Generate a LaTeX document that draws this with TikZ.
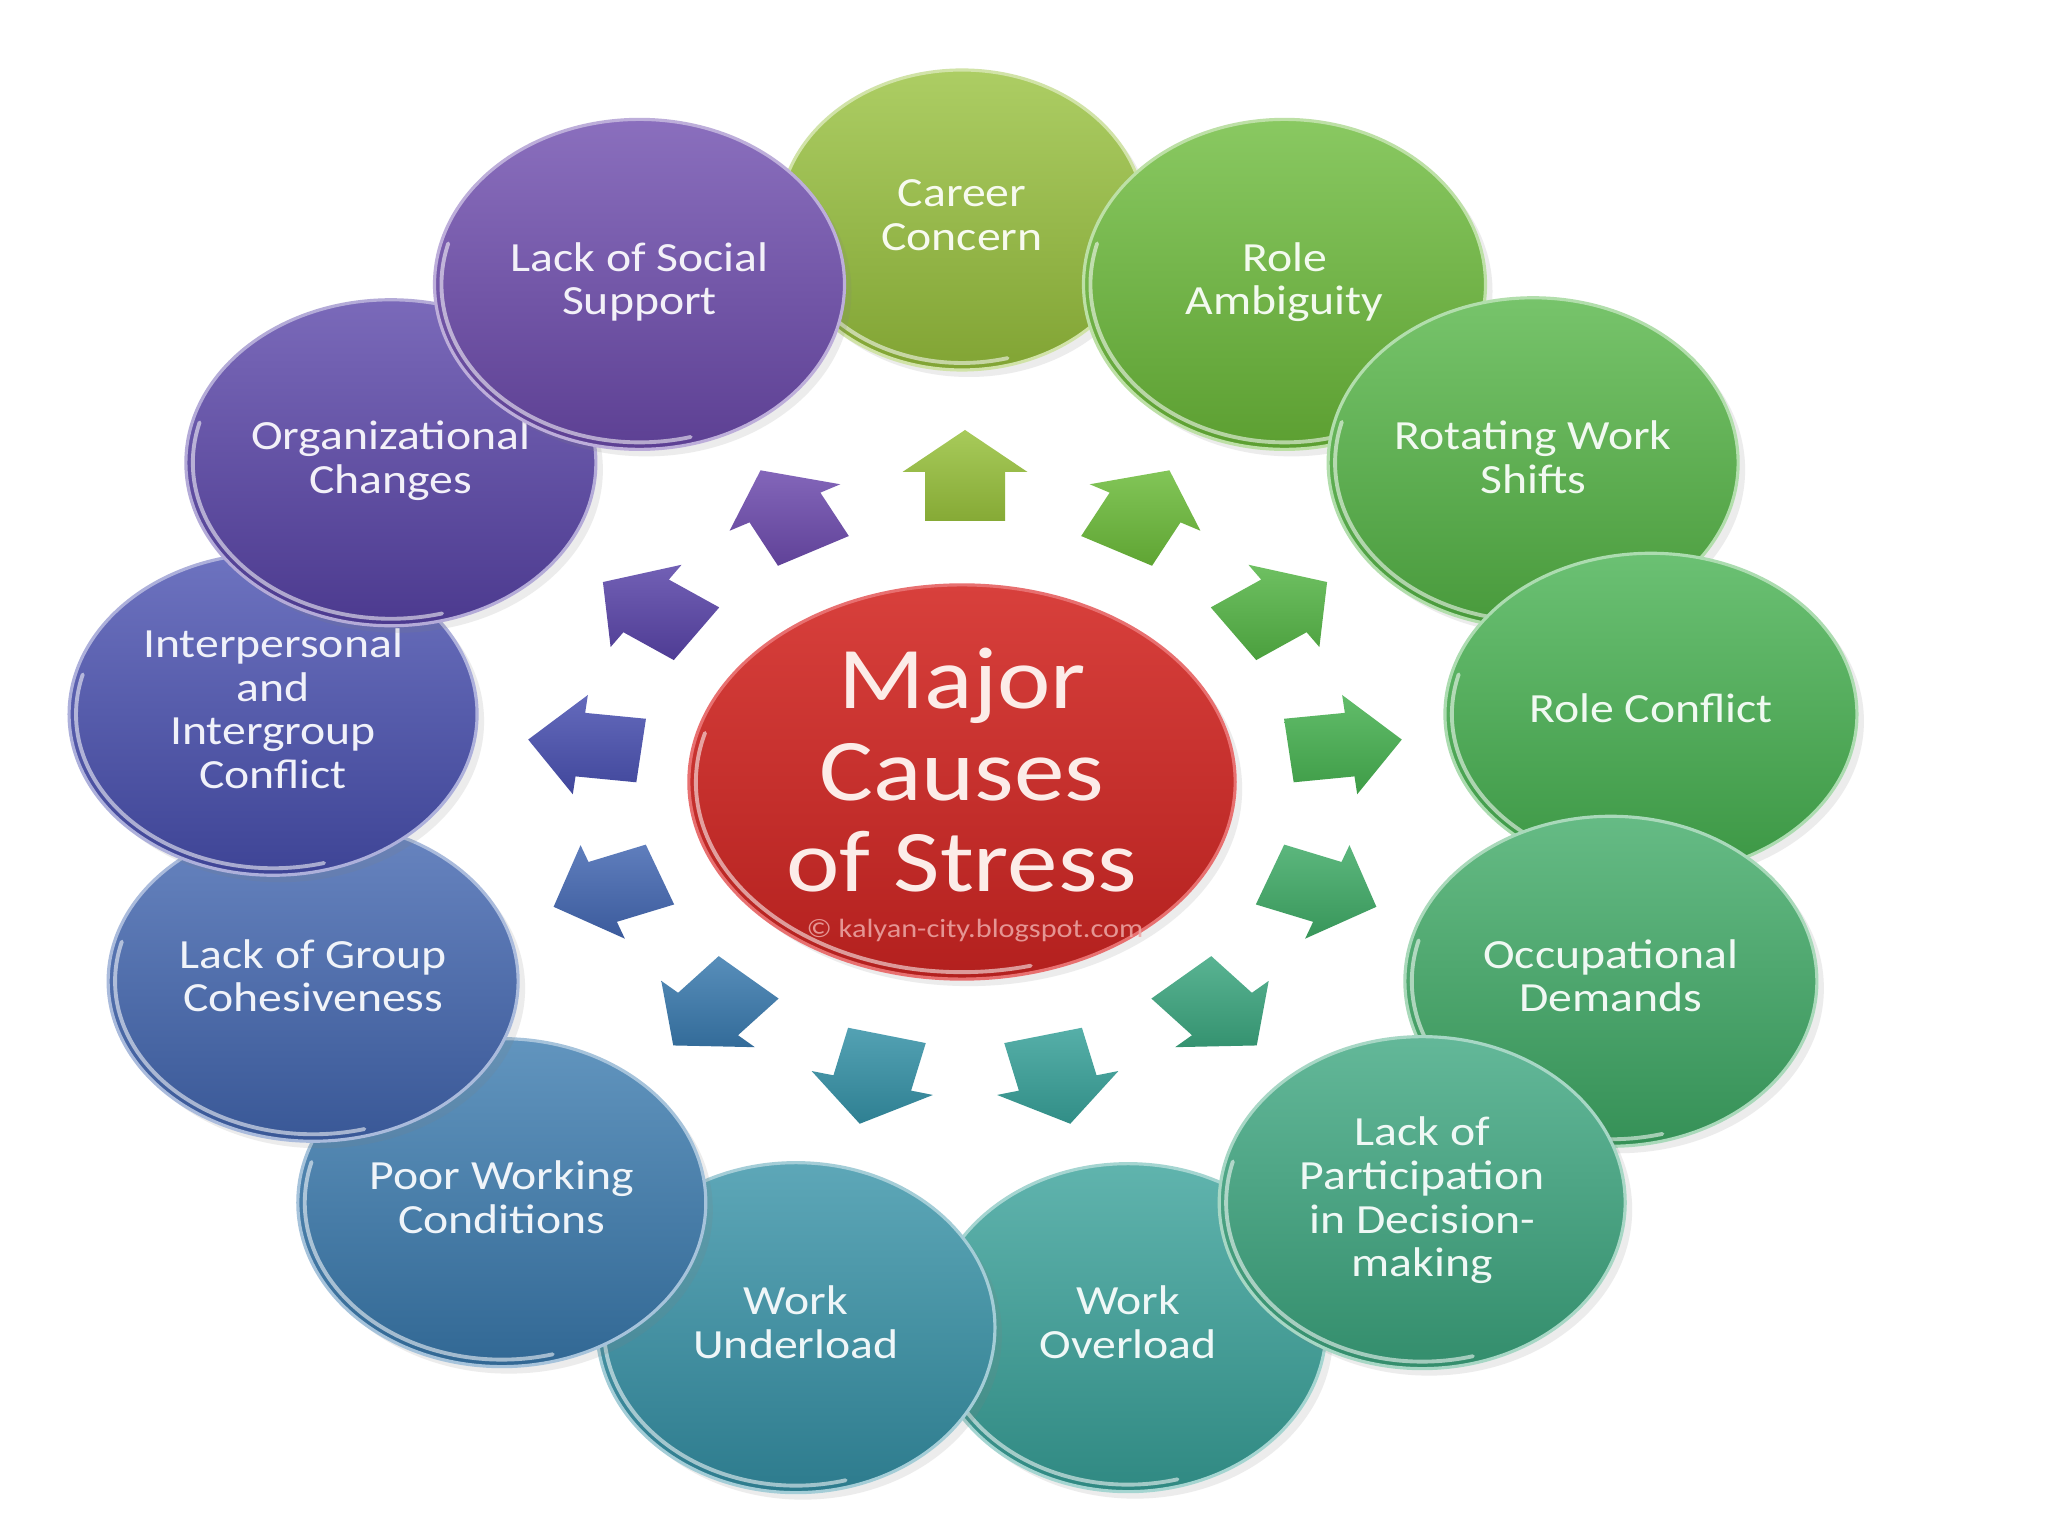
\documentclass[tikz,border=0pt]{standalone}
\usepackage{fontspec}
\newfontfamily\diafont{Carlito}[FakeStretch=1.15]
\usetikzlibrary{shapes.geometric,calc,shadows}
\definecolor{c0}{HTML}{98C13D}
\definecolor{c1}{HTML}{6CBB3A}
\definecolor{c2}{HTML}{55B546}
\definecolor{c3}{HTML}{46B150}
\definecolor{c4}{HTML}{3FAA66}
\definecolor{c5}{HTML}{3CA67F}
\definecolor{c6}{HTML}{38A199}
\definecolor{c7}{HTML}{3591A6}
\definecolor{c8}{HTML}{3A7AAE}
\definecolor{c9}{HTML}{4367B1}
\definecolor{c10}{HTML}{4950B0}
\definecolor{c11}{HTML}{5944A8}
\definecolor{c12}{HTML}{6D4BAD}
\definecolor{redtop}{HTML}{D8403C}
\definecolor{redbot}{HTML}{B3201E}
\definecolor{redrim}{HTML}{E87070}
\begin{document}
\begin{tikzpicture}[x=0.01cm, y=0.01cm,
  bubble/.style={ellipse, inner sep=0pt,
    top color=#1!80!white, bottom color=#1!85!black,
    draw=#1!45!white, line width=0.9pt,
    text=#1!8!white,
    font=\diafont\fontsize{11.8}{12.4}\selectfont,
    drop shadow={opacity=0.15, shadow xshift=0.07cm, shadow yshift=-0.07cm}},
  rim/.style={white, opacity=0.55, line width=1.1pt, line cap=round},
  arrowbody/.style={top color=#1!85!white, bottom color=#1!88!black}]
\fill[white] (0,0) rectangle (2048,1536);
\useasboundingbox (0,0) rectangle (2048,1536);

% outer bubbles (drawing order gives the overlaps)
\foreach \i/\w/\h/\rz/\txt in {
  6/396/328/0.0cm/{Work\\Overload},
  7/398/330/0.0cm/{Work\\Underload},
  8/408/328/0.0cm/{Poor Working\\Conditions},
  9/410/320/0.0cm/{Lack of Group\\Cohesiveness},
  10/408/322/0.02cm/{Interpersonal\\and\\Intergroup\\Conflict},
  11/410/326/0.06cm/{Organizational\\Changes},
  0/366/300/0.09cm/{Career\\Concern},
  12/410/330/0.08cm/{Lack of Social\\Support},
  1/402/330/0.09cm/{Role\\Ambiguity},
  2/410/330/0.06cm/{Rotating Work\\Shifts},
  3/412/322/0.05cm/{Role Conflict},
  4/412/330/0.0cm/{Occupational\\Demands},
  5/406/332/0.0cm/{Lack of\\Participation\\in Decision-\\making}}
{
  \pgfmathsetmacro\ang{90-\i*360/13}
  \pgfmathsetmacro\px{962+694*cos(\ang)}
  \pgfmathsetmacro\py{754+562*sin(\ang)}
  \pgfmathsetmacro\rx{\w/2-7}
  \pgfmathsetmacro\ry{\h/2-7}
  \pgfmathsetmacro\sx{\rx*cos(165)}
  \pgfmathsetmacro\sy{\ry*sin(165)}
  \node[bubble=c\i, minimum width=\w*0.01cm, minimum height=\h*0.01cm] (n\i) at (\px,\py)
    {\raisebox{\rz}{\begin{tabular}{@{}c@{}}\txt\end{tabular}}};
  \draw[rim] ($(n\i.center)+(\sx,\sy)$) arc[start angle=165, end angle=285, x radius=\rx, y radius=\ry];
}

% arrows
\begin{scope}[shift={(965,754)}, xscale=1.25]
\foreach \i in {0,...,12}{
  \pgfmathsetmacro\ang{90-\i*360/13}
  \shade[arrowbody=c\i, shift={({306*cos(\ang)},{306*sin(\ang)})}, rotate=\ang]
    (-45,-32) -- (4,-32) -- (4,-50) -- (46,0) -- (4,50) -- (4,32) -- (-45,32) -- cycle;
}
\end{scope}

% centre
\node[ellipse, inner sep=0pt, minimum width=5.46cm, minimum height=3.94cm,
  top color=redtop, bottom color=redbot, draw=redrim, line width=0.9pt,
  text={rgb,255:red,252;green,236;blue,232},
  font=\diafont\fontsize{25}{26}\selectfont,
  drop shadow={opacity=0.15, shadow xshift=0.07cm, shadow yshift=-0.07cm}] (ctr) at (962,754)
  {\raisebox{0.09cm}{\begin{tabular}{@{}c@{}}Major\\Causes\\of Stress\end{tabular}}};
\draw[rim] ($(ctr.center)+(-257,49)$) arc[start angle=165, end angle=285, x radius=266, y radius=190];
\node[font=\diafont\fontsize{7.5}{8}\selectfont, text=redtop!45!white, opacity=0.85] (wm) at (975,605) {\textcopyright{} kalyan-city.blogspot.com};
\end{tikzpicture}
\end{document}
